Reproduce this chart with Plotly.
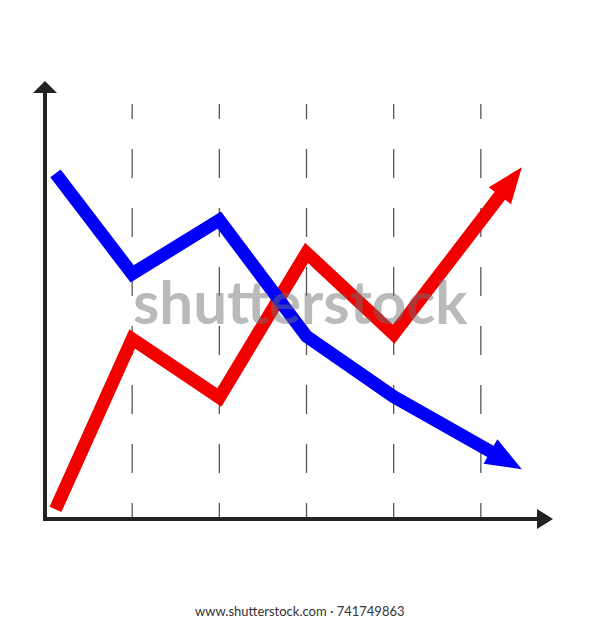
import numpy as np
import plotly.graph_objects as go

# data (x in column units, y in 0-100 value units)
x_pts = [0.12, 1, 2, 3, 4]
x_tip = 5.47
red_vals = [2.2, 41.2, 27.8, 60.9, 42.3]
red_tip = 80.5
blue_vals = [79.1, 56.1, 68.4, 41.8, 28.0]
blue_tip = 11.4
grid_x = [1, 2, 3, 4, 5]

RED = "#f20000"
BLUE = "#0000fa"
AXIS = "#222222"

# pixel scale of the axes (figure has no margins)
W, H = 600, 620
PX_X = 87.17          # px per x unit
PX_Y = 4.37           # px per y unit
X0_PX, Y0_PX = 45, 519
x_range = [-X0_PX / PX_X, (W - X0_PX) / PX_X]
y_range = [-(H - Y0_PX) / PX_Y, Y0_PX / PX_Y]


def arrow_parts(xs, ys, tx, ty, head_len=36, half_w=14, cut=30):
    # direction of last segment in pixel space
    dx = (tx - xs[-1]) * PX_X
    dy = (ty - ys[-1]) * PX_Y
    n = np.hypot(dx, dy)
    ux, uy = dx / n, dy / n
    bx, by = tx - ux * head_len / PX_X, ty - uy * head_len / PX_Y
    px, py = -uy, ux
    tri_x = [tx, bx + px * half_w / PX_X, bx - px * half_w / PX_X, tx]
    tri_y = [ty, by + py * half_w / PX_Y, by - py * half_w / PX_Y, ty]
    end_x = tx - ux * cut / PX_X
    end_y = ty - uy * cut / PX_Y
    return list(xs) + [end_x], list(ys) + [end_y], tri_x, tri_y


fig = go.Figure()

for vals, tip, col in [(red_vals, red_tip, RED), (blue_vals, blue_tip, BLUE)]:
    lx, ly, tx, ty = arrow_parts(x_pts, vals, x_tip, tip)
    fig.add_trace(go.Scatter(x=lx, y=ly, mode="lines",
                             line=dict(color=col, width=13), hoverinfo="skip"))
    fig.add_trace(go.Scatter(x=tx, y=ty, mode="lines", fill="toself",
                             fillcolor=col, line=dict(color=col, width=0),
                             hoverinfo="skip"))

# dashed verticals
dash = "15px,30px" + ",29px,30px" * 8
for gx in grid_x:
    fig.add_shape(type="line", x0=gx, x1=gx, y0=(Y0_PX - 104) / PX_Y, y1=0,
                  line=dict(color="#555555", width=1.3, dash=dash), layer="below")

# axes with arrowheads
fig.add_shape(type="line", x0=0, x1=0, y0=-1.5 / PX_Y, y1=(Y0_PX - 92) / PX_Y,
              line=dict(color=AXIS, width=4))
fig.add_shape(type="line", x0=-2 / PX_X, x1=(537 - X0_PX) / PX_X, y0=0, y1=0,
              line=dict(color=AXIS, width=4))
ytip = (Y0_PX - 81) / PX_Y
ybase = (Y0_PX - 93) / PX_Y
hw = 12 / PX_X
fig.add_shape(type="path",
              path=f"M {-hw} {ybase} L 0 {ytip} L {hw} {ybase} Z",
              fillcolor=AXIS, line=dict(width=0))
xtip = (553 - X0_PX) / PX_X
xbase = (537 - X0_PX) / PX_X
hh = 10 / PX_Y
fig.add_shape(type="path",
              path=f"M {xbase} {-hh} L {xtip} 0 L {xbase} {hh} Z",
              fillcolor=AXIS, line=dict(width=0))

# watermark texts
fig.add_annotation(x=0.5, y=(Y0_PX - 301) / PX_Y, xref="paper", yref="y",
                   text="shutterstock", showarrow=False,
                   font=dict(family="Lato", size=60, weight=700,
                             color="rgba(110,110,110,0.48)"),
                   xanchor="center", yanchor="middle")
fig.add_annotation(x=0.5, y=(Y0_PX - 611) / PX_Y, xref="paper", yref="y",
                   text="www.shutterstock.com · 741749863", showarrow=False,
                   font=dict(family="Lato", size=13, color="#333333"),
                   xanchor="center", yanchor="middle")

fig.update_layout(
    width=W, height=H,
    margin=dict(l=0, r=0, t=0, b=0),
    paper_bgcolor="white", plot_bgcolor="white",
    showlegend=False,
    xaxis=dict(range=x_range, visible=False, fixedrange=True),
    yaxis=dict(range=y_range, visible=False, fixedrange=True),
)

# page body margin would shift the figure by 8px
fig.write_html("out.html", config={"displayModeBar": False},
               post_script="document.body.style.margin='0';")
